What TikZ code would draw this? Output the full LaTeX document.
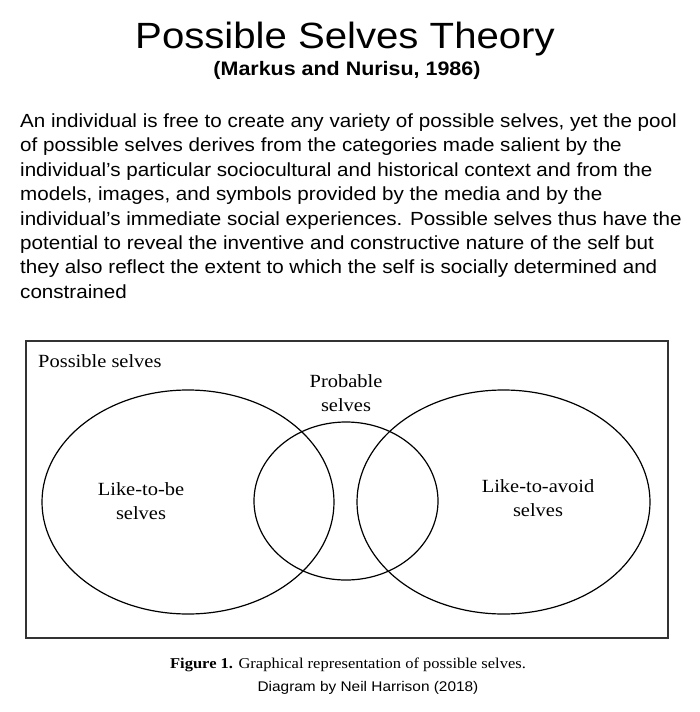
\documentclass[tikz,border=0pt]{standalone}
\usepackage{fontspec}
\newfontfamily\sansf[FakeStretch=1.1]{Liberation Sans}
\newfontfamily\bodyf[FakeStretch=1.085]{Liberation Sans}
\newfontfamily\seriff[FakeStretch=1.1]{Liberation Serif}
\begin{document}
\begin{tikzpicture}[x=1pt,y=-1pt,
  bodyline/.style={anchor=base west,inner sep=0pt,font=\bodyf\fontsize{19}{19}\selectfont},
  vlabel/.style={anchor=base,inner sep=0pt,font=\seriff\fontsize{18.6}{18.6}\selectfont},
  venn/.style={draw=black,line width=1.2pt}]
\useasboundingbox (0,0) rectangle (700,712);
\node[anchor=base,inner sep=0pt,font=\sansf\fontsize{36.5}{36.5}\selectfont] (title) at (345,48) {Possible Selves Theory};
\node[anchor=base,inner sep=0pt,font=\sansf\bfseries\fontsize{19.5}{19.5}\selectfont] (sub) at (347,75) {(Markus and Nurisu, 1986)};
\node[bodyline] (l1) at (20,127.5) {An individual is free to create any variety of possible selves, yet the pool};
\node[bodyline] (l2) at (20,151.9) {of possible selves derives from the categories made salient by the};
\node[bodyline] (l3) at (20,176.3) {individual’s particular sociocultural and historical context and from the};
\node[bodyline] (l4) at (20,200.7) {models, images, and symbols provided by the media and by the};
\node[bodyline] (l5) at (20,225.1) {individual’s immediate social experiences. Possible selves thus have the};
\node[bodyline] (l6) at (20,249.5) {potential to reveal the inventive and constructive nature of the self but};
\node[bodyline] (l7) at (20,273.9) {they also reflect the extent to which the self is socially determined and};
\node[bodyline] (l8) at (20,298.3) {constrained};
% frame
\draw[draw=black!80,line width=1.8pt] (26,341) rectangle (668,638);
% circles
\draw[venn] (188,502) ellipse [x radius=146pt,y radius=112pt];
\draw[venn] (346,501) ellipse [x radius=92pt,y radius=79pt];
\draw[venn] (503.5,502) ellipse [x radius=146.5pt,y radius=112pt];
% labels
\node[vlabel,anchor=base west] (ps) at (38,367.3) {Possible selves};
\node[vlabel] (pr1) at (346,387.3) {Probable};
\node[vlabel] (pr2) at (346,411) {selves};
\node[vlabel] (lb1) at (141,495) {Like-to-be};
\node[vlabel] (lb2) at (141,519.3) {selves};
\node[vlabel] (la1) at (538,492.3) {Like-to-avoid};
\node[vlabel] (la2) at (538,516) {selves};
% captions
\node[anchor=base,inner sep=0pt,font=\seriff\fontsize{15}{15}\selectfont] (cap) at (348,668.3) {\textbf{Figure 1.} Graphical representation of possible selves.};
\node[anchor=base,inner sep=0pt,font=\sansf\fontsize{14}{14}\selectfont] (by) at (368,691.7) {Diagram by Neil Harrison (2018)};
\end{tikzpicture}
\end{document}
